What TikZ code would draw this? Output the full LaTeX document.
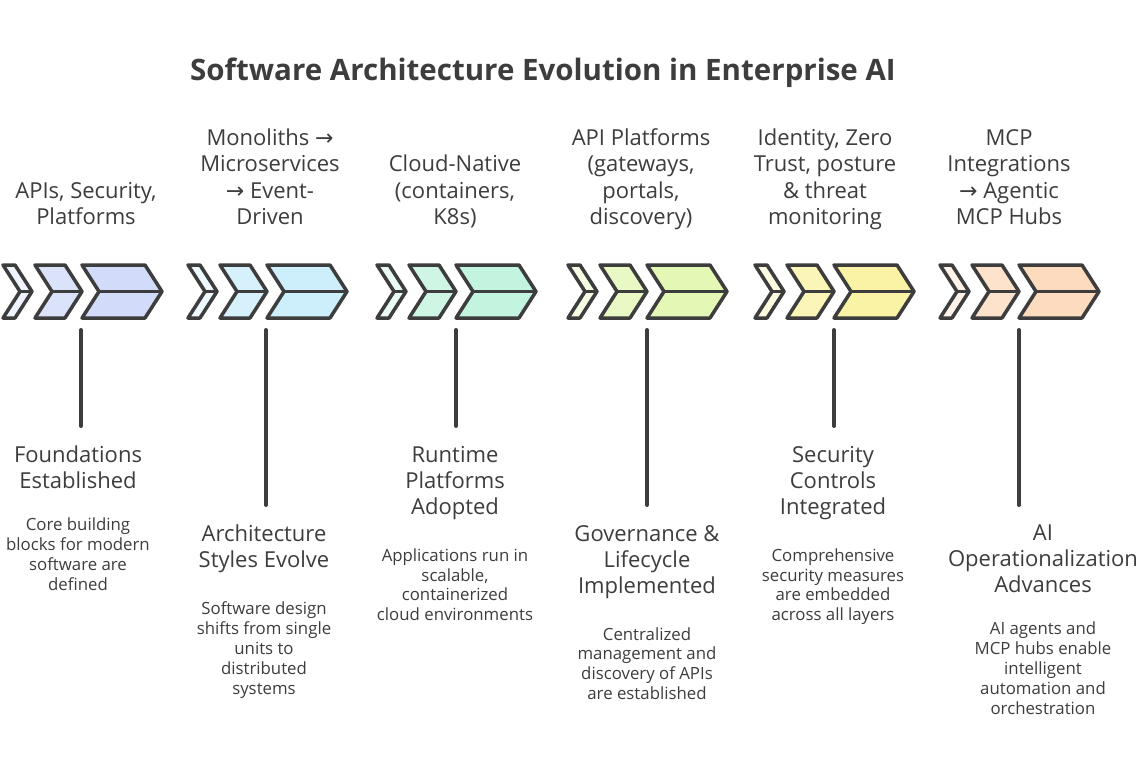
\documentclass[tikz,border=0pt]{standalone}
\usepackage{fontspec}
\setmainfont{Open Sans}
\newfontfamily\arrowfont{DejaVu Sans}
\usetikzlibrary{positioning}
\definecolor{ink}{HTML}{3D3D3D}
\definecolor{lavender}{HTML}{D2DCFA}
\definecolor{skyblue}{HTML}{CDEEFB}
\definecolor{mint}{HTML}{C3F4DF}
\definecolor{lime}{HTML}{E4F8B6}
\definecolor{lemon}{HTML}{FAF3A6}
\definecolor{peach}{HTML}{FCDBBF}
\tikzstyle{title} = [font=\bfseries\fontsize{29.5}{34}\selectfont, text=ink]
\tikzstyle{toplabel} = [align=center, anchor=south, inner sep=0pt, text depth=0pt, font=\fontsize{22}{26.5}\selectfont, text=ink]
\tikzstyle{heading} = [align=center, anchor=north, inner sep=0pt, font=\fontsize{22}{26}\selectfont, text=ink]
\tikzstyle{desc} = [align=center, inner sep=0pt, font=\fontsize{16.8}{19.8}\selectfont, text=ink, below=19pt]
\tikzstyle{chev} = [draw=ink, line width=3.5pt, line join=round, line cap=round]
\tikzstyle{stem} = [draw=ink, line width=4pt, line cap=round, shorten <=12pt, shorten >=20pt]
\newcommand{\arr}{{\arrowfont\fontsize{22}{20}\selectfont →}}
% one chevron: left x, top width, fill
\newcommand{\chevron}[3]{%
  \filldraw[chev, fill=#3] (#1,265) -- ++(#2,0) -- ++(17,26.5) -- ++(-17,26.5) -- ++(-#2,0) -- ++(17,-26.5) -- cycle;
  \draw[chev] (#1+17,291.5) -- ++(#2,0);}
% three chevrons of one stage
\newcommand{\chevgroup}[2]{%
  \chevron{#1}{12}{#2!35}
  \chevron{#1+32}{30}{#2!80}
  \chevron{#1+79}{63}{#2}}
\begin{document}
\begin{tikzpicture}[x=1pt, y=-1pt]
\fill[white] (0,0) rectangle (1147,780);
\useasboundingbox (0,0) rectangle (1147,780);

\node (title) [title] at (543,73) {Software Architecture Evolution in Enterprise AI};

% chevrons
\chevgroup{3}{lavender}
\chevgroup{188}{skyblue}
\chevgroup{377}{mint}
\chevgroup{568}{lime}
\chevgroup{755}{lemon}
\chevgroup{940}{peach}

% labels above
\node (t1) [toplabel] at (86,225) {APIs, Security,\\Platforms};
\node (t2) [toplabel] at (270,225) {Monoliths \arr\\Microservices\\\arr{} Event-\\Driven};
\node (t3) [toplabel] at (455,225) {Cloud-Native\\(containers,\\K8s)};
\node (t4) [toplabel] at (641,225) {API Platforms\\(gateways,\\portals,\\discovery)};
\node (t5) [toplabel] at (825,225) {Identity, Zero\\Trust, posture\\\& threat\\monitoring};
\node (t6) [toplabel] at (1009,225) {MCP\\Integrations\\\arr{} Agentic\\MCP Hubs};

% milestones below
\node (h1) [heading] at (78,446) {Foundations\\Established};
\node (d1) [desc, below=of h1] {Core building\\blocks for modern\\software are\\defined};
\node (h2) [heading] at (264,525) {Architecture\\Styles Evolve};
\node (d2) [desc, below=of h2] {Software design\\shifts from single\\units to\\distributed\\systems};
\node (h3) [heading] at (455,446) {Runtime\\Platforms\\Adopted};
\node (d3) [desc, below=of h3] {Applications run in\\scalable,\\containerized\\cloud environments};
\node (h4) [heading] at (647,525) {Governance \&\\Lifecycle\\Implemented};
\node (d4) [desc, below=of h4] {Centralized\\management and\\discovery of APIs\\are established};
\node (h5) [heading] at (833,446) {Security\\Controls\\Integrated};
\node (d5) [desc, below=of h5] {Comprehensive\\security measures\\are embedded\\across all layers};
\node (h6) [heading] at (1043,525) {AI\\Operationalization\\Advances};
\node (d6) [desc, below=of h6] {AI agents and\\MCP hubs enable\\intelligent\\automation and\\orchestration};

% stems
\coordinate (c1) at (81,318);
\coordinate (c2) at (266,318);
\coordinate (c3) at (456,318);
\coordinate (c4) at (647,318);
\coordinate (c5) at (834,318);
\coordinate (c6) at (1019,318);
\draw [stem] (c1) -- (c1 |- h1.north);
\draw [stem] (c2) -- (c2 |- h2.north);
\draw [stem] (c3) -- (c3 |- h3.north);
\draw [stem] (c4) -- (c4 |- h4.north);
\draw [stem] (c5) -- (c5 |- h5.north);
\draw [stem] (c6) -- (c6 |- h6.north);
\end{tikzpicture}
\end{document}
